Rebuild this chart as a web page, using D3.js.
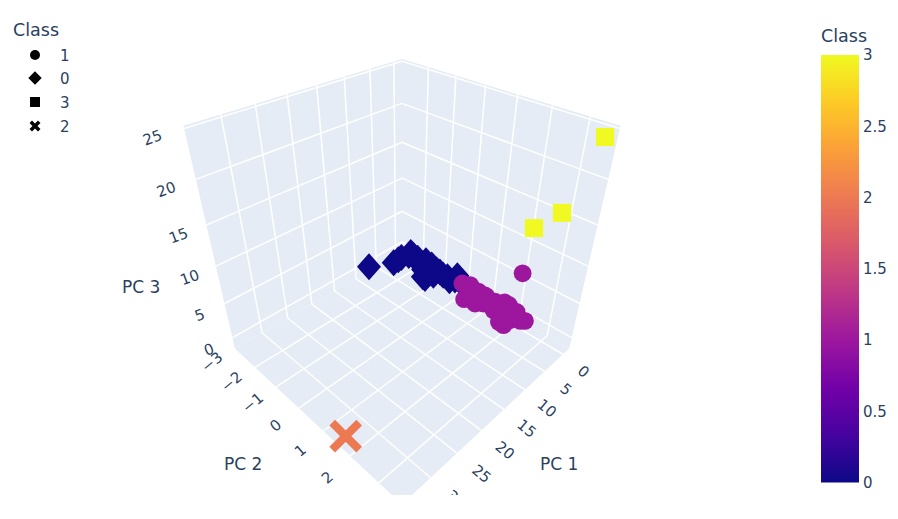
<!DOCTYPE html><html><head><meta charset="utf-8"><script src="https://cdn.jsdelivr.net/npm/d3@7"></script>
<style>body{margin:0;background:#fff}svg{display:block}text{font-family:"DejaVu Sans";fill:#2a3f5f}</style></head><body><svg id="c" width="898" height="519"></svg>
<script>
// Data
const class0PC1=[8.8,4.9,2.8,0.5,0.8,1.5,0.4,4.2,4.3,2.6,1.1,1.1,1.2,1.8,0.8,1.2,1.4,1.4,1.0,3.7,0.9,0.6,2.5,-0.2,2.65,1.46];
const class0PC2=[-3.60,-3.19,-3.22,-3.20,-3.03,-2.52,-2.52,-2.00,-1.89,-1.82,-1.79,-1.93,-1.45,-1.27,-0.93,-2.20,-2.76,-1.60,-1.17,-3.2,-2.81,-2.23,-1.97,-1.26,-2.26,-3.12];
const class0PC3=[0.7,0.7,0.7,0.7,0.7,0.7,0.7,0.7,0.7,0.7,0.7,0.7,0.7,0.7,0.7,0.7,0.7,0.7,0.7,0.7,0.7,0.7,0.7,0.7,0.7,0.7];
const class1PC1=[2.5,2.2,5.1,4.7,1.6,3.8,2.0,2.1,2.1,3.8,1.2,3.2,3.9,5.6,5.5,2.5,3.0,1.7,4.0,3.5,3.0,3.4,3.0,1.2,2.0];
const class1PC2=[1.34,-0.70,-0.18,0.17,-0.48,-0.21,-0.10,0.22,0.53,0.34,0.91,0.86,0.73,1.32,1.15,1.64,1.31,1.25,1.32,0.0,0.5,1.05,1.55,0.75,0.15];
const class1PC3=[7.75,1.7,1.7,1.7,1.7,1.7,1.7,1.7,1.7,1.7,1.7,1.7,1.7,1.7,1.7,1.7,1.7,1.7,1.7,1.7,1.7,1.7,1.7,1.7,1.7];
const class3PC1=[-1.7,0.6,4.5];
const class3PC2=[2.45,1.97,1.68];
const class3PC3=[23.85,15.8,14.8];
const class2PC1=[34.6];
const class2PC2=[0.80];
const class2PC3=[0.2];
const ticksPC1=[0,5,10,15,20,25,30];
const ticksPC2=[-3,-2,-1,0,1,2];
const ticksPC3=[0,5,10,15,20,25];
const legendClasses=["1","0","3","2"];
const colorbarTicks=[0,0.5,1,1.5,2,2.5,3];
const plasma=["#0d0887","#46039f","#7201a8","#9c179e","#bd3786","#d8576b","#ed7953","#fb9f3a","#fdca26","#f0f921"];

const F=580,cx=402,cy=252,D=1.25*Math.sqrt(3),r3=Math.sqrt(3),r6=Math.sqrt(6),r2=Math.SQRT2;
const xs=d3.scaleLinear([-1.75,35],[-.5,.5]),ys=d3.scaleLinear([-4.03,2.74],[-.5,.5]),zs=d3.scaleLinear([-1.7,25.25],[-.5,.5]);
const colorOf=d3.scaleLinear(plasma.map((c,i)=>i/3),plasma);
function proj(x,y,z){const d=D-(x+y+z)/r3;return [cx+F*(y-x)/r2/d,cy-F*(2*z-x-y)/r6/d];}
const P=(a,b,c)=>proj(xs(a),ys(b),zs(c));
const svg=d3.select("#c");
const defs=svg.append("defs");
defs.append("clipPath").attr("id","scene").append("rect").attr("x",0).attr("y",0).attr("width",800).attr("height",495);
const grad=defs.append("linearGradient").attr("id","cb").attr("x1",0).attr("x2",0).attr("y1",1).attr("y2",0);
plasma.forEach((c,i)=>grad.append("stop").attr("offset",i/9).attr("stop-color",c));
const g=svg.append("g").attr("clip-path","url(#scene)");
const line=d3.line();
const [x0,x1]=xs.domain(),[y0,y1]=ys.domain(),[z0,z1]=zs.domain();
const planes=[[[x0,y0,z0],[x1,y0,z0],[x1,y1,z0],[x0,y1,z0]],[[x0,y0,z0],[x0,y1,z0],[x0,y1,z1],[x0,y0,z1]],[[x0,y0,z0],[x1,y0,z0],[x1,y0,z1],[x0,y0,z1]]];
g.selectAll("path.plane").data(planes).join("path").attr("class","plane").attr("d",d=>line(d.map(p=>P(...p)))+"Z").attr("fill","#E5ECF6");
const seg=[];
ticksPC1.forEach(t=>{seg.push([[t,y0,z0],[t,y1,z0]]);seg.push([[t,y0,z0],[t,y0,z1]]);});
ticksPC2.forEach(t=>{seg.push([[x0,t,z0],[x1,t,z0]]);seg.push([[x0,t,z0],[x0,t,z1]]);});
ticksPC3.forEach(t=>{seg.push([[x0,y0,t],[x1,y0,t]]);seg.push([[x0,y0,t],[x0,y1,t]]);});
g.selectAll("path.grid").data(seg).join("path").attr("class","grid").attr("d",d=>line(d.map(p=>P(...p)))).attr("stroke","#fff").attr("stroke-width",1.5).attr("fill","none");

function labels(ticks,pt,off,rot,fmt){
  g.selectAll(null).data(ticks).join("text").attr("font-size",15).attr("text-anchor","middle").attr("dominant-baseline","central")
   .attr("transform",t=>{const p=pt(t);const q=proj(xs(p[0])+off[0],ys(p[1])+off[1],zs(p[2])+off[2]);return `translate(${q[0]},${q[1]}) rotate(${rot})`;})
   .text(fmt);
}
const fmt=d=>String(d).replace("-","\u2212");
labels(ticksPC1,t=>[t,y1,z0],[-.032,.09,-.061],40,fmt);
labels(ticksPC2,t=>[x1,t,z0],[.12,-.12,.03],-40,fmt);
labels(ticksPC3,t=>[x1,y0,t],[.104,-.008,-.002],-20,fmt);

const scatter=(a,b,c)=>a.map((v,i)=>P(v,b[i],c[i]));
const diamond="M0,-13.5L12,0L0,13.5L-12,0Z";
g.selectAll("path.c0").data(scatter(class0PC1,class0PC2,class0PC3)).join("path").attr("class","c0").attr("d",diamond).attr("transform",d=>`translate(${d})`).attr("fill",colorOf(0));
g.selectAll("circle.c1").data(scatter(class1PC1,class1PC2,class1PC3)).join("circle").attr("class","c1").attr("r",8.9).attr("cx",d=>d[0]).attr("cy",d=>d[1]).attr("fill",colorOf(1));
g.selectAll("rect.c3").data(scatter(class3PC1,class3PC2,class3PC3)).join("rect").attr("class","c3").attr("width",18.3).attr("height",18).attr("x",d=>d[0]-9.15).attr("y",d=>d[1]-9).attr("fill",colorOf(3));
g.selectAll("path.c2").data(scatter(class2PC1,class2PC2,class2PC3)).join("path").attr("class","c2").attr("d","M-13.5,-13.5L13.5,13.5M-13.5,13.5L13.5,-13.5").attr("transform",d=>`translate(${d})`).attr("stroke",colorOf(2)).attr("stroke-width",8).attr("fill","none");

[["PC 3",122,293],["PC 2",224,470],["PC 1",540,470]].forEach(([t,x,y])=>svg.append("text").attr("x",x).attr("y",y).attr("font-size",17).text(t));

// Legend
svg.append("text").attr("x",13).attr("y",36).attr("font-size",17.5).text("Class");
const sym={"1":"M5,0A5,5 0 1 1 -5,0A5,5 0 1 1 5,0Z","0":"M0,-6.7L6.7,0L0,6.7L-6.7,0Z","3":"M-5,-5H5V5H-5Z","2":"M-3,-5.5L0,-2.5L3,-5.5L5.5,-3L2.5,0L5.5,3L3,5.5L0,2.5L-3,5.5L-5.5,3L-2.5,0L-5.5,-3Z"};
const ly=[55,78,102,126];
legendClasses.forEach((c,i)=>{svg.append("path").attr("d",sym[c]).attr("transform",`translate(35,${ly[i]})`).attr("fill","#000");
  svg.append("text").attr("x",60).attr("y",ly[i]+5.5).attr("font-size",15).text(c);});

// Colorbar
svg.append("text").attr("x",821).attr("y",42).attr("font-size",17.5).text("Class");
svg.append("rect").attr("x",821).attr("y",55).attr("width",38).attr("height",427.5).attr("fill","url(#cb)");
const cbScale=d3.scaleLinear([0,3],[482.5,55]);
const ax=svg.append("g").attr("transform","translate(859,0)").call(d3.axisRight(cbScale).tickValues(colorbarTicks).tickSize(0).tickPadding(4).tickFormat(d=>d));
ax.select(".domain").remove();
ax.selectAll("text").attr("font-size",15).attr("font-family","DejaVu Sans").attr("fill","#2a3f5f");
</script></body></html>
